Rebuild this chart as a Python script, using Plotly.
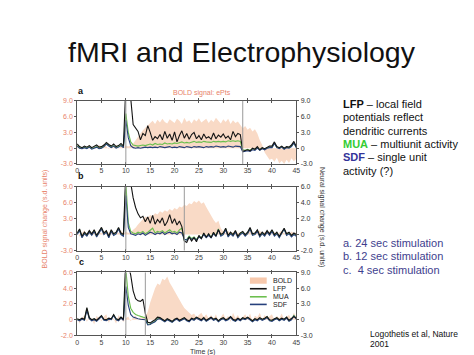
import plotly.graph_objects as go

# ---------------- data ----------------
TIME = [i * 0.5 for i in range(91)]          # 0 .. 45 s
X_TICKS = [0, 5, 10, 15, 20, 25, 30, 35, 40, 45]
TICKS_9 = [-3, 0, 3, 6, 9]
TICKS_9_TEXT = ["-3.0", "0", "3.0", "6.0", "9.0"]
TICKS_6 = [-2, 0, 2, 4, 6]
TICKS_6_TEXT = ["-2.0", "0", "2.0", "4.0", "6.0"]
STIM_ON = 10
STIM_OFF = [34, 22, 14]
PANEL_LABELS = ["a", "b", "c"]
SERIES_NAMES = ["BOLD", "LFP", "MUA", "SDF"]

BOLD_A = [0.6, 0.2, -0.3, 0.5, 0.1, 0.7, -0.2, 0.4, 0.0, 0.6,
          0.2, 0.8, 0.3, -0.2, 0.5, 0.1, 0.6, -0.1, 0.4, 0.2,
          0.5, 0.3, 0.6, 0.9, 1.5, 2.2, 2.8, 3.4, 3.9, 4.3,
          4.8, 5.2, 4.6, 5.4, 4.9, 5.6, 5.0, 4.7, 5.5, 5.1,
          4.8, 5.6, 5.2, 4.6, 5.8, 5.0, 5.3, 4.7, 5.5, 5.1,
          5.7, 4.9, 5.3, 5.6, 4.8, 5.4, 5.0, 5.8, 5.2, 4.7,
          5.5, 5.0, 5.6, 4.6, 5.3, 4.8, 5.1, 4.5, 3.8, 4.2,
          3.5, 3.9, 3.2, 3.6, 2.8, 1.5, 0.6, -0.8, -1.5, -2.2,
          -2.0, -2.6, -1.8, -2.9, -2.4, -3.0, -2.2, -2.8, -1.9, -2.5,
          -2.0]
LFP_A = [0.8, 0.3, 0.1, 0.4, 0.2, 0.5, 0.1, 0.3, 0.6, 0.2,
         0.3, 0.6, 1.1, 0.7, 0.4, 0.8, 0.3, 0.5, 0.9, 0.4,
         12.0, 11.0, 9.5, 4.5, 3.8, 3.2, 1.6, 2.8, 2.4, 4.3,
         3.0, 1.5, 2.2, 1.8, 2.6, 1.6, 3.2, 1.9, 2.7, 1.5,
         3.1, 1.2, 2.4, 3.3, 1.9, 2.8, 1.7, 2.6, 3.0, 1.8,
         2.4, 1.6, 2.7, 1.9, 2.2, 1.7, 2.9, 1.8, 2.5, 2.1,
         2.7, 1.9, 2.3, 1.6, 3.2, 2.2, 2.8, 2.6, -0.6, -0.4,
         -0.3, -0.5, 0.0, -0.2, 0.3, -0.3, 0.1, -0.1, 0.2, 0.4,
         0.4, 1.2, 0.3, 0.1, 0.4, 0.0, 0.3, 0.2, 0.6, 1.3,
         0.3]
MUA_A = [0.5, 0.1, 0.0, 0.2, 0.0, 0.3, -0.1, 0.1, 0.3, 0.0,
         0.1, 0.4, 0.9, 0.5, 0.2, 0.5, 0.1, 0.3, 0.6, 0.2,
         6.6, 3.0, 1.2, 0.6, 0.5, 0.4, 0.5, 0.6, 0.5, 0.7,
         0.8, 0.6, 0.9, 0.7, 0.8, 0.7, 1.0, 0.8, 0.9, 0.8,
         1.0, 0.9, 1.1, 1.2, 1.0, 1.1, 1.0, 1.2, 1.3, 1.1,
         1.2, 1.1, 1.3, 1.2, 1.2, 1.1, 1.3, 1.2, 1.3, 1.2,
         1.3, 1.2, 1.4, 1.3, 1.4, 1.3, 1.4, 1.3, -0.3, -0.4,
         -0.2, -0.4, -0.1, -0.2, 0.1, -0.3, 0.0, -0.2, 0.1, 0.2,
         0.2, 0.9, 0.2, 0.0, 0.3, -0.1, 0.2, 0.1, 0.4, 1.0,
         0.2]
SDF_A = [0.4, 0.0, -0.1, 0.1, -0.1, 0.2, -0.2, 0.0, 0.2, -0.1,
         0.0, 0.3, 0.8, 0.4, 0.1, 0.4, 0.0, 0.2, 0.5, 0.1,
         5.3, 2.0, 0.5, 0.1, 0.0, 0.1, 0.0, 0.1, 0.2, 0.1,
         0.2, 0.1, 0.2, 0.1, 0.3, 0.2, 0.1, 0.2, 0.3, 0.1,
         0.2, 0.1, 0.3, 0.2, 0.1, 0.3, 0.2, 0.1, 0.3, 0.2,
         0.3, 0.2, 0.1, 0.3, 0.2, 0.3, 0.2, 0.4, 0.3, 0.2,
         0.3, 0.2, 0.4, 0.3, 0.2, 0.4, 0.3, 0.3, -0.7, -0.6,
         -0.5, -0.6, -0.3, -0.4, 0.0, -0.4, -0.1, -0.3, 0.0, 0.1,
         0.1, 0.9, 0.1, -0.1, 0.2, -0.2, 0.1, 0.0, 0.3, 1.0,
         0.1]

BOLD_B = [0.5, -0.4, 0.3, 0.8, -0.2, 0.4, 0.1, 0.6, -0.3, 0.5,
          0.2, 0.7, -0.1, 0.4, 0.9, 0.0, 0.5, 0.3, 0.8, 0.2,
          0.6, 0.3, 0.4, 0.9, 1.3, 1.9, 2.4, 2.9, 3.4, 3.2,
          3.7, 3.5, 4.0, 3.8, 4.4, 4.1, 4.6, 4.3, 4.8, 4.5,
          5.0, 4.7, 5.3, 5.1, 5.6, 5.4, 5.9, 5.7, 6.3, 6.0,
          6.4, 5.8, 6.1, 5.2, 4.3, 3.6, 2.8, 2.2, 2.6, 1.2,
          0.6, 0.3, 0.7, 0.1, 0.5, -0.2, 0.4, 0.2, 0.6, 0.0,
          0.3, 0.7, -0.1, 0.4, 0.2, 0.8, 0.0, 0.5, 0.3, 0.6,
          0.1, 0.5, -0.2, 0.4, 0.7, 0.2, 0.5, 0.0, 0.6, 0.3,
          0.4]
LFP_B = [0.2, 0.7, -0.2, 0.3, 0.0, 0.5, 0.1, 0.6, -0.1, 0.4,
         0.9, 0.2, 0.5, -0.2, 0.6, 0.1, 0.3, 0.9, 0.2, 0.0,
         8.0, 7.0, 6.5, 4.6, 3.4, 2.6, 2.1, 2.3, 1.6, 2.2,
         1.4, 2.4, 1.3, 1.9, 1.5, 2.1, 1.1, 1.6, 2.5, 1.4,
         2.0, 1.2, 1.7, 1.0, -0.8, -1.0, -0.3, -0.8, -0.4, -0.9,
         -0.1, -0.5, 0.2, -0.3, 0.1, -0.4, 0.3, -0.2, 0.6, 0.0,
         0.2, 0.8, -0.1, 0.3, 0.0, 0.5, -0.2, 0.2, 0.4, 0.0,
         0.3, 0.9, 0.1, 0.2, 0.6, -0.1, 0.3, 0.0, 0.5, 0.1,
         0.6, 0.0, 0.3, -0.2, 0.4, 0.8, 0.1, 0.3, -0.1, 0.2,
         0.0]
MUA_B = [0.1, 0.6, -0.3, 0.2, -0.1, 0.4, 0.0, 0.5, -0.2, 0.3,
         0.8, 0.1, 0.4, -0.3, 0.5, 0.0, 0.2, 0.8, 0.1, -0.1,
         6.5, 1.5, 0.4, 0.2, 0.1, 0.3, 0.2, 0.4, 0.1, 0.3,
         0.5, 0.8, 0.2, 0.4, 0.3, 0.5, 0.2, 0.4, 0.6, 0.3,
         0.4, 0.2, 0.6, 0.8, -0.7, -0.6, -0.2, -0.5, -0.3, -0.6,
         -0.2, -0.4, 0.1, -0.3, 0.0, -0.3, 0.2, -0.1, 0.7, -0.1,
         0.1, 0.7, -0.2, 0.2, -0.1, 0.4, -0.3, 0.1, 0.3, -0.1,
         0.2, 0.8, 0.0, 0.1, 0.5, -0.2, 0.2, -0.1, 0.4, 0.0,
         0.5, -0.1, 0.2, -0.3, 0.3, 0.7, 0.0, 0.2, -0.2, 0.1,
         -0.1]
SDF_B = [0.0, 0.5, -0.4, 0.1, -0.2, 0.3, -0.1, 0.4, -0.3, 0.2,
         0.7, 0.0, 0.3, -0.4, 0.4, -0.1, 0.1, 0.7, 0.0, -0.2,
         4.9, 0.9, 0.1, 0.0, -0.1, 0.1, 0.0, 0.2, -0.1, 0.1,
         0.3, 0.2, 0.0, 0.2, 0.1, 0.3, 0.0, 0.2, 0.3, 0.1,
         0.2, 0.0, 0.3, 0.2, -0.6, -0.7, -0.3, -0.6, -0.4, -0.7,
         -0.3, -0.5, 0.0, -0.4, -0.1, -0.4, 0.1, -0.2, 0.6, -0.2,
         0.0, 0.6, -0.3, 0.1, -0.2, 0.3, -0.4, 0.0, 0.2, -0.2,
         0.1, 0.7, -0.1, 0.0, 0.4, -0.3, 0.1, -0.2, 0.3, -0.1,
         0.4, -0.2, 0.1, -0.4, 0.2, 0.7, -0.1, 0.1, -0.3, 0.0,
         -0.2]

BOLD_C = [0.3, -0.5, 0.2, 0.6, -0.3, 0.4, 0.1, -0.6, 0.5, 0.2,
          -0.2, 0.4, 0.7, -0.4, 0.3, 0.1, -0.5, 0.6, 0.2, -0.3,
          0.2, 0.4, -0.2, 0.3, 0.5, -0.1, 0.3, 0.2, 0.4, 1.0,
          2.2, 3.2, 4.0, 4.6, 4.4, 5.2, 5.0, 5.5, 4.7, 4.2,
          3.6, 3.0, 2.4, 2.0, 1.5, 1.2, 0.9, 0.6, 0.8, 0.3,
          0.6, 0.9, 0.3, 0.7, 0.2, 0.6, 0.1, 0.7, -0.2, 0.4,
          0.8, 0.1, 0.5, -0.3, 0.9, 0.2, 0.6, 0.0, 0.4, 0.7,
          0.1, 0.8, -0.2, 0.5, 0.3, 0.9, 0.0, 0.6, 0.2, 0.4,
          0.7, -0.1, 0.5, 0.2, 0.8, 0.0, 0.4, 0.6, 0.1, 0.9,
          0.3]
LFP_C = [0.2, 0.0, 0.3, 0.1, 2.3, 0.4, 0.0, 0.2, -0.1, 0.3,
         0.8, 0.1, 0.0, 0.3, 0.2, 1.0, 0.2, 0.0, 0.5, 0.1,
         12.0, 10.5, 8.5, 5.5, 4.0, 3.6, 3.5, 3.9, 1.2, -0.5,
         -0.6, -0.3, 0.0, 0.5, 0.4, 0.1, -0.2, 0.2, 0.0, -0.3,
         0.1, 0.3, -0.1, 0.2, 0.4, 0.0, -0.2, 0.3, 0.1, 0.5,
         0.2, 0.0, 0.4, -0.1, 0.2, 0.5, 0.1, 0.3, -0.2, 0.2,
         0.4, 0.0, 0.2, 0.6, 0.1, -0.1, 0.3, 0.0, 0.4, 0.2,
         0.5, 0.1, -0.2, 0.2, 0.0, 0.4, 0.1, 0.3, 0.6, 0.0,
         -0.1, 0.2, 0.4, 0.0, 0.3, 0.1, 0.5, -0.1, 0.2, 0.6,
         0.3]
MUA_C = [0.1, -0.1, 0.2, 0.0, 2.1, 0.3, -0.1, 0.1, -0.2, 0.2,
         0.7, 0.0, -0.1, 0.2, 0.1, 0.9, 0.1, -0.1, 0.4, 0.0,
         9.5, 4.5, 2.2, 1.4, 1.0, 0.8, 0.6, 0.5, 0.4, -0.9,
         -0.8, -0.5, -0.3, 0.2, 0.3, 0.0, -0.3, 0.1, -0.1, -0.4,
         0.0, 0.2, -0.2, 0.1, 0.3, -0.1, -0.3, 0.2, 0.0, 0.4,
         0.1, -0.1, 0.3, -0.2, 0.1, 0.4, 0.0, 0.2, -0.3, 0.1,
         0.3, -0.1, 0.1, 0.5, 0.0, -0.2, 0.2, -0.1, 0.3, 0.1,
         0.4, 0.0, -0.3, 0.1, -0.1, 0.3, 0.0, 0.2, 0.5, -0.1,
         -0.2, 0.1, 0.3, -0.1, 0.2, 0.0, 0.4, -0.2, 0.1, 0.8,
         0.2]
SDF_C = [0.0, -0.2, 0.1, -0.1, 1.8, 0.2, -0.2, 0.0, -0.3, 0.1,
         0.6, -0.1, -0.2, 0.1, 0.0, 0.8, 0.0, -0.2, 0.3, -0.1,
         6.3, 2.8, 1.0, 0.5, 0.3, 0.2, 0.1, 0.1, 0.0, -1.0,
         -0.9, -0.6, -0.4, 0.1, 0.2, -0.1, -0.4, 0.0, -0.2, -0.5,
         -0.1, 0.1, -0.3, 0.0, 0.2, -0.2, -0.4, 0.1, -0.1, 0.3,
         0.0, -0.2, 0.2, -0.3, 0.0, 0.3, -0.1, 0.1, -0.4, 0.0,
         0.2, -0.2, 0.0, 0.4, -0.1, -0.3, 0.1, -0.2, 0.2, 0.0,
         0.3, -0.1, -0.4, 0.0, -0.2, 0.2, -0.1, 0.1, 0.4, -0.2,
         -0.3, 0.0, 0.2, -0.2, 0.1, -0.1, 0.3, -0.3, 0.0, 0.7,
         0.1]

PANELS = [
    dict(bold=BOLD_A, lfp=LFP_A, mua=MUA_A, sdf=SDF_A,
         left=(TICKS_9, TICKS_9_TEXT), right=(TICKS_9, TICKS_9_TEXT)),
    dict(bold=BOLD_B, lfp=LFP_B, mua=MUA_B, sdf=SDF_B,
         left=(TICKS_9, TICKS_9_TEXT), right=(TICKS_6, TICKS_6_TEXT)),
    dict(bold=BOLD_C, lfp=LFP_C, mua=MUA_C, sdf=SDF_C,
         left=(TICKS_6, TICKS_6_TEXT), right=(TICKS_9, TICKS_9_TEXT)),
]

# ---------------- styling ----------------
W, H = 474, 355
FONT = "Liberation Sans, Arial, Helvetica, sans-serif"
SALMON = "#e8826a"
BOLD_FILL = "#f9dac6"
C_LFP = "#141414"
C_MUA = "#6cbf4e"
C_SDF = "#26407c"
FRAME = "#555555"
VLINE = "#9a9a9a"

PX_L, PX_R = 68, 290
PANEL_PX = [(90.7, 155.0), (178.3, 243.3), (265.7, 330.0)]


def fx(px):
    return px / W


def fy(py):
    return 1 - py / H


def nm(prefix, n):
    return prefix if n == 1 else f"{prefix}{n}"


fig = go.Figure()
layout = dict(width=W, height=H, autosize=False,
              margin=dict(l=0, r=0, t=0, b=0),
              paper_bgcolor="white", plot_bgcolor="white",
              showlegend=False, font=dict(family=FONT, size=7, color="#333"))
shapes = []
annotations = []

for k, p in enumerate(PANELS, start=1):
    xr = nm("x", k)
    yl = nm("y", 2 * k - 1)
    yr = nm("y", 2 * k)
    top, bot = PANEL_PX[k - 1]
    dom_y = [fy(bot), fy(top)]
    lt, rt = p["left"], p["right"]

    fig.add_trace(go.Scatter(x=TIME, y=p["bold"], xaxis=xr, yaxis=yl, mode="lines",
                             fill="tozeroy", fillcolor=BOLD_FILL,
                             line=dict(width=0, color=BOLD_FILL), hoverinfo="skip"))
    for key, col in (("mua", C_MUA), ("sdf", C_SDF), ("lfp", C_LFP)):
        fig.add_trace(go.Scatter(x=TIME, y=p[key], xaxis=xr, yaxis=yr, mode="lines",
                                 line=dict(width=1.1, color=col), hoverinfo="skip"))

    layout[nm("xaxis", k)] = dict(
        domain=[fx(PX_L), fx(PX_R)], range=[0, 45], anchor=yl,
        tickvals=X_TICKS, ticks="inside", ticklen=2, tickcolor=FRAME,
        mirror="allticks", showline=True, linecolor=FRAME, linewidth=0.8,
        showgrid=False, zeroline=False, tickfont=dict(size=7, color="#444"))
    layout[nm("yaxis", 2 * k - 1)] = dict(
        domain=dom_y, range=[lt[0][0], lt[0][-1]], anchor=xr,
        tickvals=lt[0], ticktext=lt[1], ticks="outside", ticklen=2, tickcolor=FRAME,
        showline=True, linecolor=FRAME, linewidth=0.8, showgrid=False, zeroline=False,
        tickfont=dict(size=7, color=SALMON))
    layout[nm("yaxis", 2 * k)] = dict(
        domain=dom_y, range=[rt[0][0], rt[0][-1]], anchor=xr, overlaying=yl, side="right",
        tickvals=rt[0], ticktext=rt[1], ticks="outside", ticklen=2, tickcolor=FRAME,
        showline=True, linecolor=FRAME, linewidth=0.8, showgrid=False, zeroline=False,
        tickfont=dict(size=7, color="#333"))

    for xv in (STIM_ON, STIM_OFF[k - 1]):
        shapes.append(dict(type="line", xref=xr, yref=f"{yl} domain", x0=xv, x1=xv,
                           y0=0, y1=1, line=dict(color=VLINE, width=1)))

    annotations.append(dict(text=f"<b>{PANEL_LABELS[k - 1]}</b>", x=fx(72), y=fy(top - 10.5),
                            xref="paper", yref="paper", showarrow=False,
                            font=dict(size=9, color="#111"), xanchor="center", yanchor="middle"))

# legend (panel c), drawn by hand to keep it compact
LEG_Y = [274.0, 282.3, 290.5, 298.3]
LEG_COLORS = ["#f7c9ad", C_LFP, C_MUA, C_SDF]
for i, (name, col, ly) in enumerate(zip(SERIES_NAMES, LEG_COLORS, LEG_Y)):
    if i == 0:
        shapes.append(dict(type="rect", xref="paper", yref="paper",
                           x0=fx(243), x1=fx(260), y0=fy(ly + 3.2), y1=fy(ly - 3.2),
                           fillcolor=col, line=dict(width=0)))
    else:
        shapes.append(dict(type="line", xref="paper", yref="paper",
                           x0=fx(243), x1=fx(260), y0=fy(ly), y1=fy(ly),
                           line=dict(color=col, width=1.6)))
    annotations.append(dict(text=name, x=fx(264), y=fy(ly), xref="paper", yref="paper",
                            showarrow=False, xanchor="left", yanchor="middle",
                            font=dict(size=7, color="#222")))

# chart texts
annotations += [
    dict(text="BOLD signal: ePts", x=fx(194), y=fy(83), font=dict(size=7, color=SALMON)),
    dict(text="BOLD signal change (s.d. units)", x=fx(35), y=fy(211), textangle=-90,
         font=dict(size=7, color=SALMON)),
    dict(text="Neural signal change (s.d. units)", x=fx(316), y=fy(209), textangle=90,
         font=dict(size=7, color="#333")),
    dict(text="Time (s)", x=fx(194.5), y=fy(347), font=dict(size=7, color="#333")),
    dict(text="fMRI and Electrophysiology", x=fx(235), y=fy(41),
         font=dict(size=28.5, color="#111")),
]
for a in annotations:
    a.setdefault("xref", "paper")
    a.setdefault("yref", "paper")
    a.setdefault("showarrow", False)
    a.setdefault("xanchor", "center")
    a.setdefault("yanchor", "middle")

# slide text on the right
SIDE_LINES = [
    ("<b>LFP</b> – local field", 94),
    ("potentials reflect", 107.6),
    ("dendritic currents", 121.2),
    ("<b><span style='color:#33cc33'>MUA</span></b> – multiunit activity", 134.8),
    ("<b><span style='color:#333399'>SDF</span></b> – single unit", 148.4),
    ("activity (?)", 162),
]
for txt, ly in SIDE_LINES:
    annotations.append(dict(text=txt, x=fx(335), y=fy(ly), xref="paper", yref="paper",
                            showarrow=False, xanchor="left", yanchor="middle",
                            font=dict(size=11, color="#111")))
STIM_LINES = [("a. 24 sec stimulation", 235.5), ("b. 12 sec stimulation", 249.2),
              ("c.  4 sec stimulation", 262.8)]
for txt, ly in STIM_LINES:
    annotations.append(dict(text=txt, x=fx(335), y=fy(ly), xref="paper", yref="paper",
                            showarrow=False, xanchor="left", yanchor="middle",
                            font=dict(size=11, color="#3e3e8e")))
for txt, ly in (("Logothetis et al, Nature", 328), ("2001", 338.5)):
    annotations.append(dict(text=txt, x=fx(363), y=fy(ly), xref="paper", yref="paper",
                            showarrow=False, xanchor="left", yanchor="middle",
                            font=dict(size=8.5, color="#111")))

layout["shapes"] = shapes
layout["annotations"] = annotations
fig.update_layout(**layout)
fig.write_html("out.html")
